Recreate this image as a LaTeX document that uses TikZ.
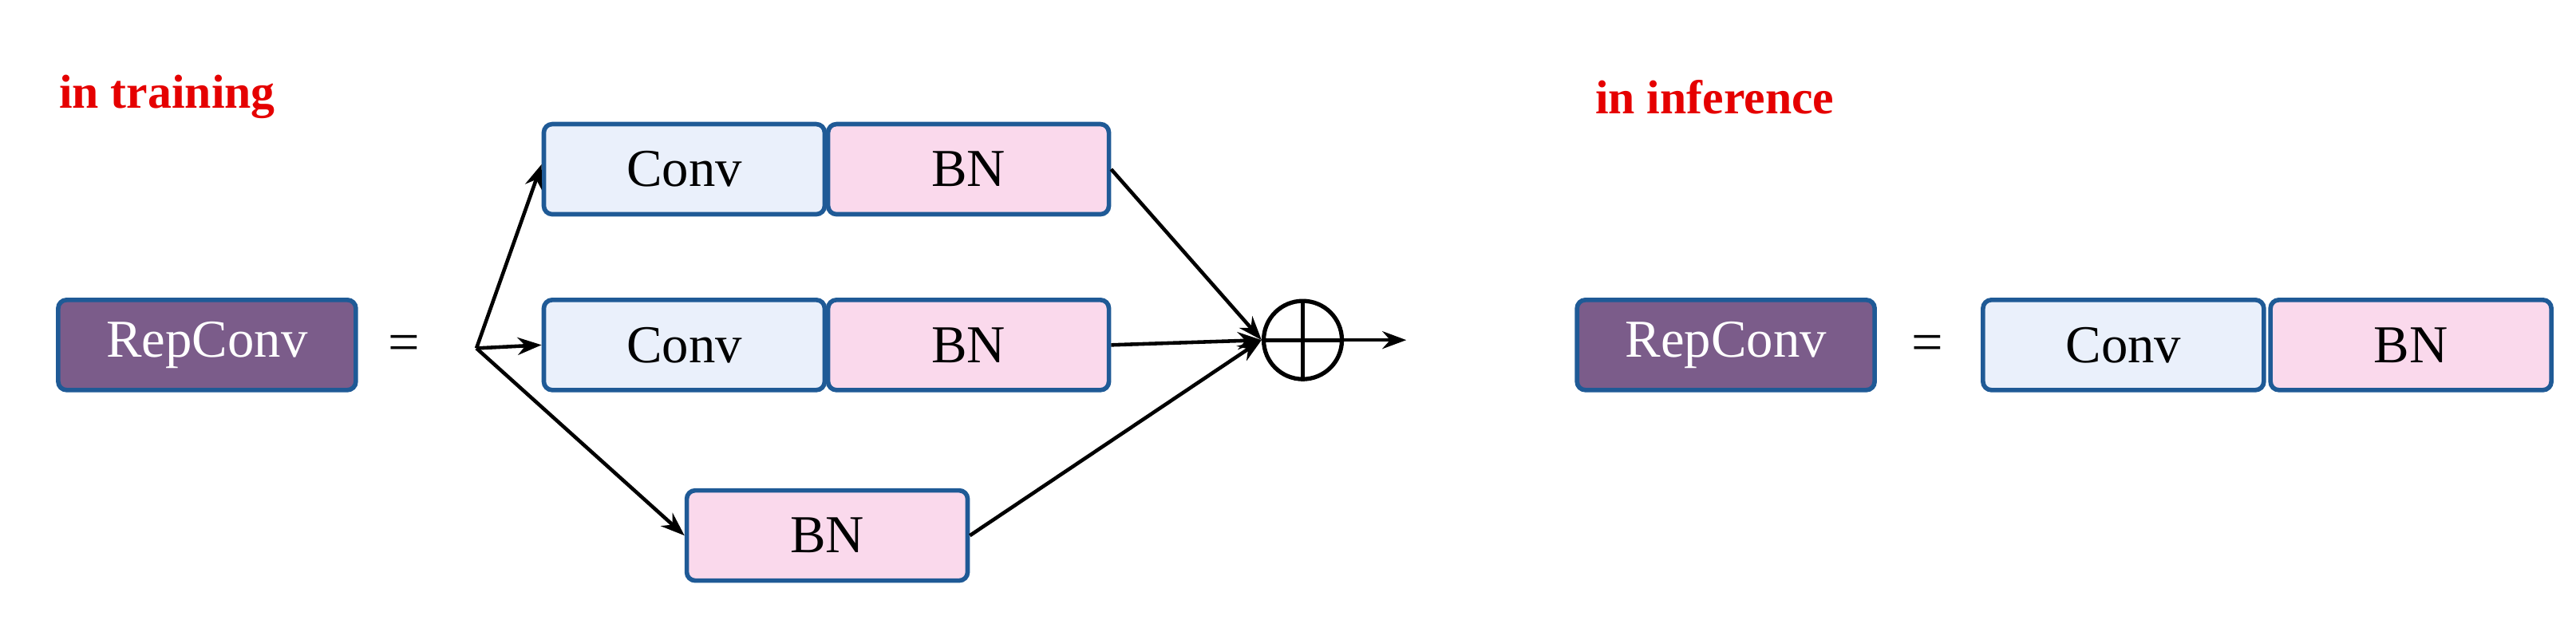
\documentclass[tikz,border=0pt]{standalone}
\usepackage{fontspec}
\setmainfont{Liberation Serif}
\usetikzlibrary{arrows.meta}
\definecolor{bord}{HTML}{1F5A96}
\definecolor{convc}{HTML}{EAF0FB}
\definecolor{bnc}{HTML}{FAD9EC}
\definecolor{repc}{HTML}{7B5C8A}
\begin{document}
\begin{tikzpicture}[x=0.2059mm,y=-0.2059mm,
  blk/.style={draw=bord,line width=1.6pt,rounded corners=3pt,minimum width=35.2mm,minimum height=11.3mm,inner sep=0pt,font=\fontsize{19}{22}\selectfont},
  conv/.style={blk,fill=convc},
  bn/.style={blk,fill=bnc},
  rep/.style={blk,fill=repc,text=white,minimum width=37.3mm},
  lab/.style={text=red!90!black,font=\bfseries\fontsize{17}{20}\selectfont,anchor=west},
  arr/.style={-{Stealth[length=3mm,width=2.2mm]},line width=1.3pt}]
\useasboundingbox (0,0) rectangle (1568,377);
\node[lab] (lt) at (30,59) {in training};
\node[lab] (li) at (965,59) {in inference};
\node[rep] (r1) at (126,210) {RepConv};
\node[font=\fontsize{20}{22}\selectfont] (e1) at (246,212) {=};
\coordinate (b) at (290,212);
\node[conv] (c1) at (416.5,103) {Conv};
\node[bn] (n1) at (589.5,103) {BN};
\node[conv] (c2) at (416.5,210) {Conv};
\node[bn] (n2) at (589.5,210) {BN};
\node[bn] (n3) at (503.5,326) {BN};
\node[draw,circle,line width=1.5pt,minimum size=9.8mm,inner sep=0pt] (p) at (793,207) {};
\draw[line width=1.5pt] (p.north)--(p.south) (p.west)--(p.east);
\coordinate (o) at (856,207);
\draw[arr] (b) -- (c1.south west|-0,100);
\draw[arr] (b) -- (c2.west);
\draw[arr] (b) -- (n3.west);
\draw[arr] (n1.east) -- (p.west);
\draw[arr] (n2.east) -- (p.west);
\draw[arr] (n3.east) -- (p.west);
\draw[arr] (p.east) -- (o);
\node[rep] (r2) at (1050.5,210) {RepConv};
\node[font=\fontsize{20}{22}\selectfont] (e2) at (1173,212) {=};
\node[conv] (c3) at (1292.5,210) {Conv};
\node[bn] (n4) at (1467.5,210) {BN};
\end{tikzpicture}
\end{document}
